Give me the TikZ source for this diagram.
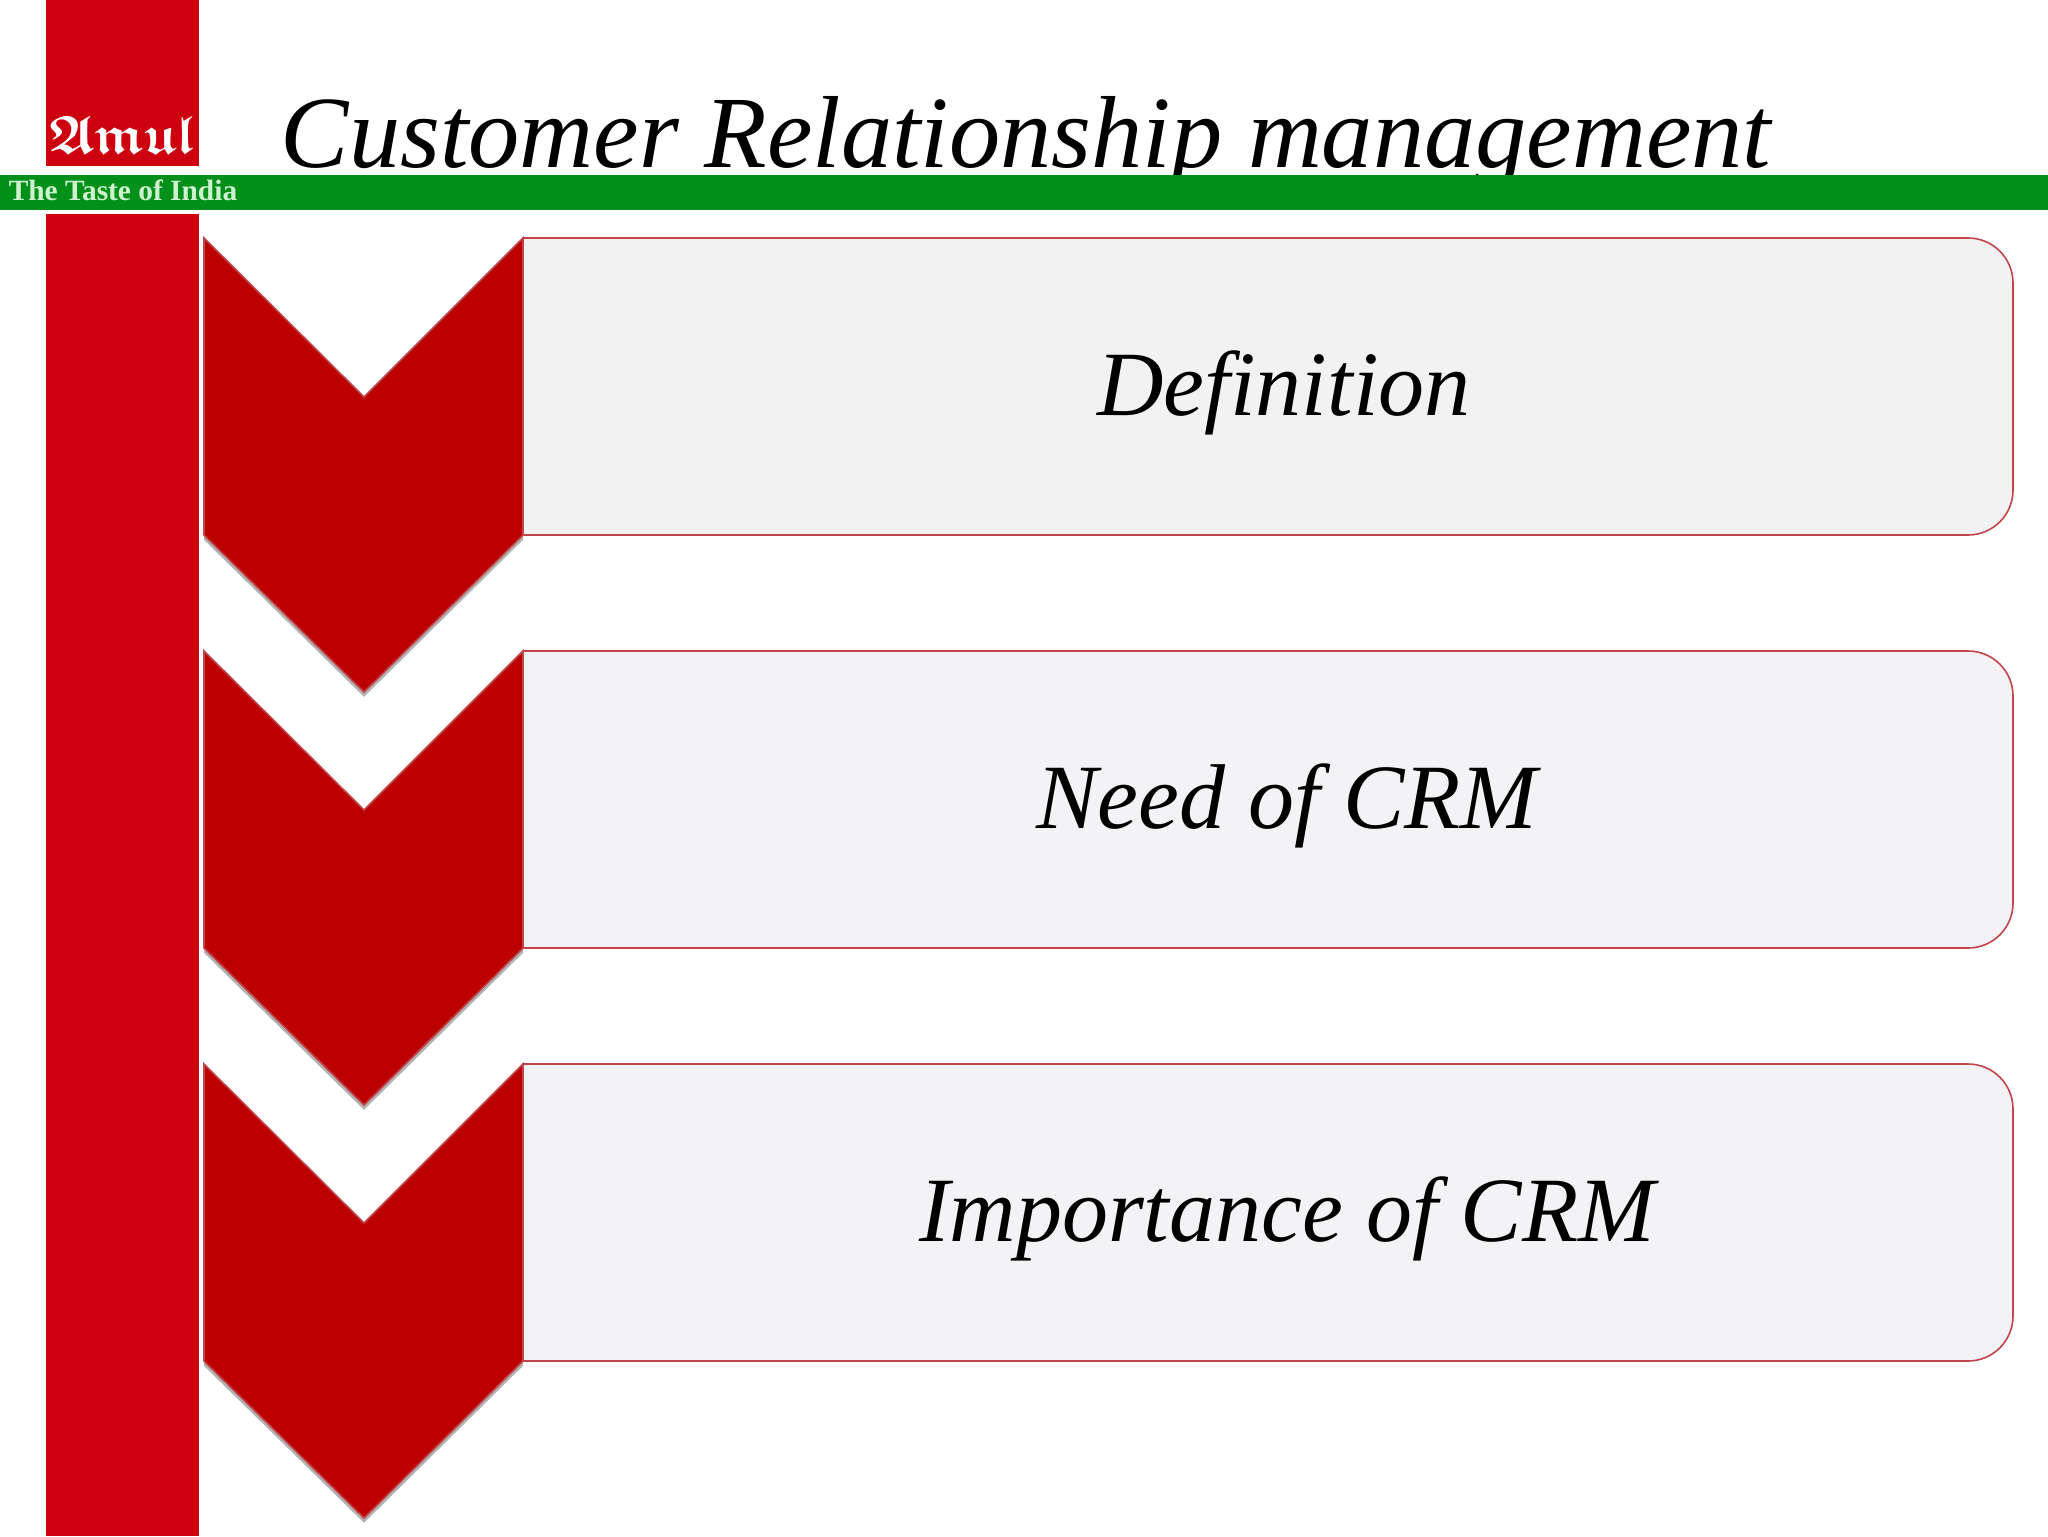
\documentclass[tikz,border=0pt]{standalone}
\usepackage{fontspec}
\setmainfont{Liberation Serif}
\usetikzlibrary{shadows}
\definecolor{amulred}{HTML}{CC000F}
\definecolor{chevred}{HTML}{BC0000}
\definecolor{edgered}{HTML}{C0444A}
\definecolor{bandgreen}{HTML}{02901A}
\definecolor{tastegreen}{HTML}{CDF2CD}
\definecolor{boxgrey}{HTML}{F2F2F2}
\definecolor{boxlilac}{HTML}{F3F2F5}
\font\amulfont=eufb10 at 27pt
\tikzset{
barpart/.style={fill=amulred, draw=none},
chevron/.style={fill=chevred, draw=edgered, line width=0.8pt, line join=miter},
chevronshadow/.style={chevron, drop shadow={shadow xshift=0pt, shadow yshift=-2.4pt, opacity=0.6, fill=gray}},
crmbox/.style={fill=#1, draw=edgered, line width=0.8pt},
crmlabel/.style={font=\fontsize{46}{54}\selectfont\itshape, inner sep=0pt, anchor=base},
}
\begin{document}
\begin{tikzpicture}[x=0.5pt, y=-0.5pt]
    \useasboundingbox (0,0) rectangle (2048,1536);

                \fill[white] (0,0) rectangle (2048,1536);
                \fill[barpart] (46,0) rectangle (199,166);
                \fill[barpart] (46,214) rectangle (199,1536);

                \node[font=\fontsize{51.2}{60}\selectfont\itshape, inner sep=0pt, anchor=base] (title) at (1026,167) {Customer Relationship management};
                \node[text=white, inner sep=0pt, anchor=base] (amul) at (122,154) {\amulfont Amul};

                \fill[bandgreen] (0,175) rectangle (2048,210);
                \node[text=tastegreen, font=\fontsize{14.7}{18}\selectfont\bfseries, inner sep=0pt, anchor=base] (taste) at (123,200) {The Taste of India};

                \draw[crmbox=boxgrey] (523,238) -- (1968,238) arc[start angle=-90, end angle=0, radius=45] -- (2013,490) arc[start angle=0, end angle=90, radius=45] -- (523,535) -- cycle;
                \draw[crmbox=boxlilac] (523,651) -- (1968,651) arc[start angle=-90, end angle=0, radius=45] -- (2013,903) arc[start angle=0, end angle=90, radius=45] -- (523,948) -- cycle;
                \draw[crmbox=boxlilac] (523,1064) -- (1968,1064) arc[start angle=-90, end angle=0, radius=45] -- (2013,1316) arc[start angle=0, end angle=90, radius=45] -- (523,1361) -- cycle;

                \draw[chevronshadow] (204,238) -- (364,397) -- (523,238) -- (523,535) -- (364,692) -- (204,535) -- cycle;
                \draw[chevronshadow] (204,651) -- (364,810) -- (523,651) -- (523,948) -- (364,1105) -- (204,948) -- cycle;
                \draw[chevronshadow] (204,1064) -- (364,1223) -- (523,1064) -- (523,1361) -- (364,1518) -- (204,1361) -- cycle;

                \node[crmlabel] (definition) at (1284,415) {Definition};
                \node[crmlabel] (need) at (1287,828) {Need of CRM};
                \node[crmlabel] (importance) at (1287,1241) {Importance of CRM};

\end{tikzpicture}
\end{document}
